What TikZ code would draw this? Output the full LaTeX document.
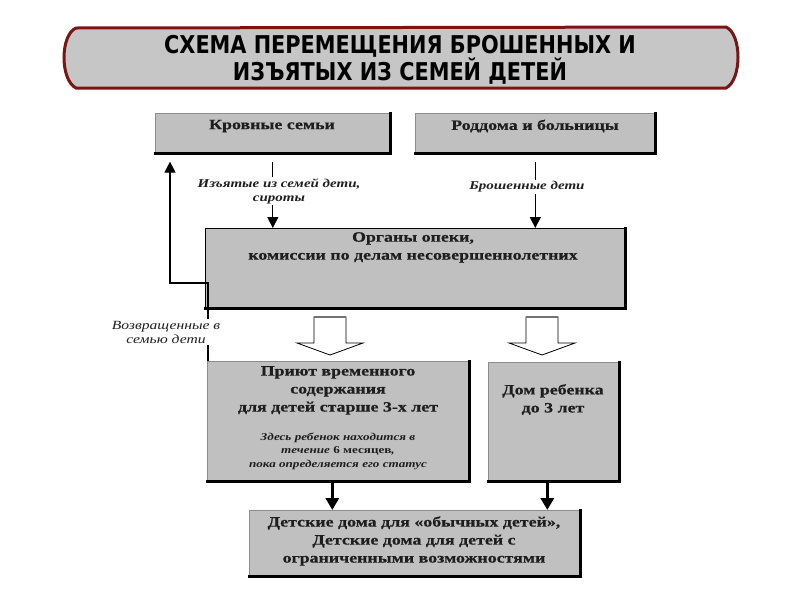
\documentclass[tikz,border=0pt]{standalone}
\usepackage{fontspec}
\setmainfont{Liberation Serif}
\newfontfamily\wideserif[FakeStretch=1.25]{Liberation Serif}
\newfontfamily\headserif[FakeStretch=1.25,FakeBold=0.6]{Liberation Serif}
\newfontfamily\titlefont[FakeStretch=0.85]{DejaVu Sans}
\usetikzlibrary{arrows.meta,calc}
\definecolor{boxgray}{HTML}{C0C0C0}
\definecolor{titlegray}{HTML}{C6C6C6}
\definecolor{titlered}{HTML}{7A1515}
\definecolor{ink}{HTML}{1E1E1E}
\begin{document}
\begin{tikzpicture}[x=1pt,y=-1pt,
  box/.style={draw=black!45, line width=0.6pt, fill=boxgray, anchor=north west, inner sep=0pt},
  shadowedge/.style={draw=black, line width=2.4pt, line cap=rect},
  arr/.style={draw=black, line width=1pt, -{Triangle[width=11pt,length=11pt]}},
  thickarr/.style={draw=black, line width=3pt, -{Triangle[width=13pt,length=12pt]}},
  plainline/.style={draw=black, line width=1pt},
  lbl/.style={font=\wideserif\bfseries\itshape\fontsize{12}{14}\selectfont, text=ink, align=center, inner sep=1pt},
  retlbl/.style={font=\wideserif\itshape\fontsize{12.5}{14}\selectfont, text=ink, align=center, inner sep=2pt, fill=white},
  smalllbl/.style={font=\wideserif\bfseries\itshape\fontsize{10.5}{13.5}\selectfont, text=ink, align=center, inner sep=0pt},
  hollow/.style={draw=black, line width=0.8pt, fill=white},
  txt/.style={align=center, inner sep=0pt, text=ink, font=\headserif\bfseries\fontsize{14.3}{18}\selectfont}
]
\useasboundingbox (0,0) rectangle (800,600);

% title banner
\draw[fill=titlegray, draw=titlered, line width=3pt]
  (76,28) -- (726,27) .. controls (742,34) and (742,80) .. (726,88)
  -- (76,88) .. controls (60,80) and (60,35) .. (76,28) -- cycle;
\node[font=\titlefont\bfseries\fontsize{24.5}{25}\selectfont, align=center, text=black] (title) at (400,60)
  {СХЕМА ПЕРЕМЕЩЕНИЯ БРОШЕННЫХ И\\ИЗЪЯТЫХ ИЗ СЕМЕЙ ДЕТЕЙ};

% top boxes
\node[box, minimum width=235pt, minimum height=40pt] (krov) at (155,113) {};
\draw[shadowedge] (krov.north east) -- (krov.south east) -- (krov.south west);
\node[txt] (krovt) at (272,126) {Кровные семьи};

\node[box, minimum width=240pt, minimum height=40pt] (rod) at (415,113) {};
\draw[shadowedge] (rod.north east) -- (rod.south east) -- (rod.south west);
\node[txt] (rodt) at (535,126) {Роддома и больницы};

% guardianship box
\node[box, draw=black, minimum width=420pt, minimum height=80pt] (org) at (205,228) {};
\draw[shadowedge] (org.north east) -- (org.south east) -- (org.south west);
\node[txt, anchor=north] (orgt) at (413,232) {Органы опеки,\\комиссии по делам несовершеннолетних};

% labels on connectors
\node[lbl] (izl) at (279,191) {Изъятые из семей дети,\\сироты};
\node[lbl] (bros) at (527,187) {Брошенные дети};

\draw[plainline, shorten <=8pt] (krov.south) -- (krov.south |- izl.north);
\draw[arr] (krov.south |- izl.south) -- (krov.south |- org.north);
\draw[plainline, shorten <=8pt] (rod.south) -- (rod.south |- bros.north);
\draw[arr] (rod.south |- bros.south) -- (rod.south |- org.north);

% lower boxes
\node[box, minimum width=262pt, minimum height=120pt] (pri) at (207,361) {};
\draw[shadowedge] (pri.north east) -- (pri.south east) -- (pri.south west);
\node[txt, anchor=north] (prit) at (338,366) {Приют временного\\содержания\\для детей старше 3-х лет};
\node[smalllbl] (prii) at (338,451) {Здесь ребенок находится в\\течение {\upshape 6 месяцев},\\пока определяется его статус};

\node[box, minimum width=131pt, minimum height=119pt] (dom) at (488,362) {};
\draw[shadowedge] (dom.north east) -- (dom.south east) -- (dom.south west);
\node[txt, anchor=north] (domt) at (553,384) {Дом ребенка\\до 3 лет};

\node[box, minimum width=331pt, minimum height=66pt] (det) at (249,510) {};
\draw[shadowedge] (det.north east) -- (det.south east) -- (det.south west);
\node[txt] (dett) at (414,541) {Детские дома для «обычных детей»,\\Детские дома для детей с\\ограниченными возможностями};

% hollow arrows
\coordinate (h1) at (330,317);
\coordinate (h2) at (542,317);
\foreach \h in {h1,h2}{
  \draw[hollow] (\h) ++(-16,0) -- ++(32,0) -- ++(0,26) -- ++(17,0) -- ++(-33,12) -- ++(-33,-12) -- ++(17,0) -- cycle;
  \draw[draw=black!55, line width=2pt] (\h) ++(-16,0) -- ++(32,0);
}

% return connector
\coordinate (rA) at (208,283);
\coordinate (rB) at (170,283);
\draw[arr, line width=1.1pt, shorten >=8pt] ([xshift=1pt]pri.north west) -- (rA) -- (rB) -- (rB |- krov.south);
\node[retlbl] (ret) at (166,332) {Возвращенные в\\семью дети};

% thick arrows down
\draw[thickarr] ([xshift=-6pt]pri.south) -- ([xshift=-6pt]pri.south |- det.north);
\draw[thickarr] ([xshift=-6.5pt]dom.south) -- ([xshift=-6.5pt]dom.south |- det.north);
\end{tikzpicture}
\end{document}
